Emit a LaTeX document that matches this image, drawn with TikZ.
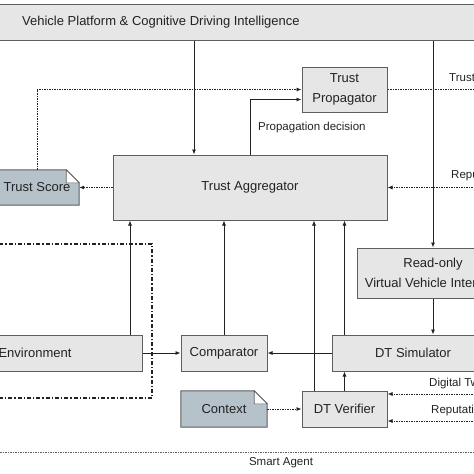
\documentclass[tikz,border=0pt]{standalone}
\usepackage{fontspec}
\setmainfont{Liberation Sans}
\usetikzlibrary{arrows.meta,backgrounds}
\definecolor{boxfill}{HTML}{E6E6E6}
\definecolor{notefill}{HTML}{B5C2CA}
\definecolor{edge}{HTML}{5E5E5E}
\definecolor{ink}{HTML}{222222}
\begin{document}
\begin{tikzpicture}[x=1pt,y=-1pt,
  box/.style={draw=edge, fill=boxfill, line width=1pt, inner sep=0pt,
    font=\fontsize{13}{20}\selectfont, align=center, text=ink},
  notebox/.style={inner sep=0pt, font=\fontsize{13}{20}\selectfont, align=center, text=ink},
  lbl/.style={font=\fontsize{11.5}{13}\selectfont, text=ink, inner sep=0pt},
  arr/.style={draw=ink, line width=0.8pt, -{Latex[length=5pt,width=4pt]}},
  darr/.style={arr, dash pattern=on 1.5pt off 1pt},
  dline/.style={draw=ink, line width=0.8pt, dash pattern=on 1.5pt off 1pt},
  region/.style={draw=ink, line width=1.3pt, dash pattern=on 4pt off 2pt on 1.3pt off 2pt},
  sep/.style={draw=edge, line width=0.7pt, dash pattern=on 1.5pt off 1pt},
]
\useasboundingbox (0,0) rectangle (474,474);
\clip (0,0) rectangle (474,474);

% region and separator
\draw[region] (-5,244) rectangle (152,398);
\coordinate (sepL) at (-5,452);
\coordinate (sepR) at (480,452);
\draw[sep] (sepL) -- (sepR);
\node[lbl] (smart) at (281,463) {Smart Agent};

% boxes
\node[box, minimum width=485pt, minimum height=36pt] (vp) at (237.5,22) {};
\node[notebox, font=\fontsize{13}{15}\selectfont, anchor=west] (vptext) at (22,22) {Vehicle Platform \& Cognitive Driving Intelligence};
\node[box, minimum width=85pt, minimum height=45pt] (prop) at (344.5,89.5) {Trust\\Propagator};
\node[box, minimum width=274pt, minimum height=65pt] (agg) at (250,187.5) {Trust Aggregator};
\node[notebox, minimum width=84pt, minimum height=35pt] (ts) at (37,187.5) {Trust Score};
\node[box, minimum width=152pt, minimum height=50pt] (ro) at (433,273) {Read-only\\Virtual Vehicle Interface};
\node[box, minimum width=162pt, minimum height=36pt] (sim) at (413,353) {DT Simulator};
\node[box, minimum width=86pt, minimum height=36pt] (comp) at (224,353) {Comparator};
\node[box, minimum width=214pt, minimum height=36pt] (env) at (35,353) {Environment};
\node[notebox, minimum width=86pt, minimum height=36pt] (ctx) at (224,409) {Context};
\node[box, minimum width=85pt, minimum height=36pt] (ver) at (344.5,409) {DT Verifier};

% note shapes
\begin{scope}[on background layer]
  \foreach \n in {ts,ctx}{
    \draw[draw=edge, fill=notefill, line width=1pt]
      (\n.south west) -- (\n.north west) -- ([xshift=-13pt]\n.north east)
      -- ([yshift=-13pt]\n.north east) -- (\n.south east) -- cycle;
    \draw[draw=edge, fill=white, line width=0.6pt]
      ([xshift=-13pt]\n.north east) -- ([yshift=-13pt]\n.north east)
      -- ([xshift=-13pt,yshift=-13pt]\n.north east) -- cycle;
  }
\end{scope}

% column coordinates
\coordinate (cA) at (194,0);
\coordinate (cB) at (130,0);
\coordinate (cC) at (314,0);
\coordinate (rA) at (480,89.5);
\coordinate (rB) at (480,187.5);
\coordinate (rC) at (480,394);
\coordinate (rD) at (480,421);

% connectors
\draw[arr] (vp.south -| cA) -- (agg.north -| cA);
\draw[arr] (vp.south -| ro.north) -- (ro.north);
\draw[arr] (ro.south) -- (ro.south |- sim.north);
\draw[arr] (agg.north) |- ([yshift=-10pt]prop.west);
\draw[darr] (ts.north) |- (prop.west);
\draw[darr] (agg.west) -- (ts.east);
\draw[dline] (prop.east) -- (rA);
\draw[darr] (rB) -- (agg.east);
\draw[arr] (env.north -| cB) -- (agg.south -| cB);
\draw[arr] (comp.north) -- (comp.north |- agg.south);
\draw[arr] (sim.north -| ver.north) -- (agg.south -| ver.north);
\draw[arr] (ver.north) -- (ver.north |- sim.south);
\draw[arr] (ver.north -| cC) -- (agg.south -| cC);
\draw[arr] (env.east) -- (comp.west);
\draw[arr] (sim.west) -- (comp.east);
\draw[darr] (ctx.east) -- (ver.west);
\draw[darr] (rC) -- ([yshift=15pt]ver.east);
\draw[darr] (rD) -- ([yshift=-12pt]ver.east);

% labels
\node[lbl, anchor=west] (lpd) at (258,128) {Propagation decision};
\node[lbl, anchor=west] (ltr) at (449,78) {Trust};
\node[lbl, anchor=west] (lrep) at (451,176) {Reputation};
\node[lbl, anchor=west] (ldt) at (429,384) {Digital Twin};
\node[lbl, anchor=west] (lrep2) at (431,411) {Reputation};
\end{tikzpicture}
\end{document}
